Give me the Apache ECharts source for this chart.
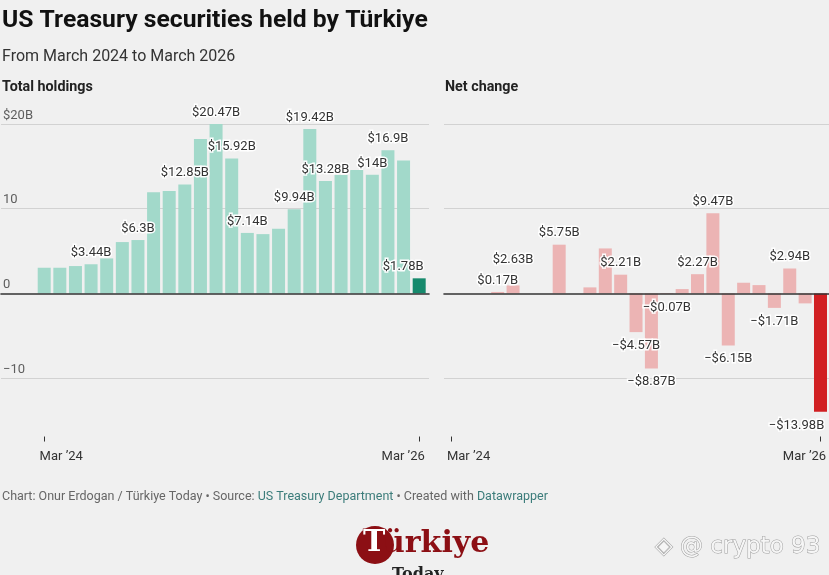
<!DOCTYPE html>
<html>
<head>
<meta charset="utf-8">
<title>US Treasury securities held by Türkiye</title>
<script src="https://cdn.jsdelivr.net/npm/echarts@6/dist/echarts.min.js"></script>
<style>
  html, body { margin: 0; padding: 0; background: #f0f0f0; }
  #chart { width: 829px; height: 575px; }
</style>
</head>
<body>
<div id="chart"></div>
<script>
// months, March 2024 -> March 2026
var months = ['Mar ’24', 'Apr ’24', 'May ’24', 'Jun ’24', 'Jul ’24', 'Aug ’24', 'Sep ’24', 'Oct ’24', 'Nov ’24', 'Dec ’24',
    'Jan ’25', 'Feb ’25', 'Mar ’25', 'Apr ’25', 'May ’25', 'Jun ’25', 'Jul ’25', 'Aug ’25', 'Sep ’25', 'Oct ’25',
    'Nov ’25', 'Dec ’25', 'Jan ’26', 'Feb ’26', 'Mar ’26'];

// billions of dollars
var totalHoldings = [3.03, 3.03, 3.23, 3.44, 4.13, 6.06, 6.3, 11.93, 12.09, 12.85, 18.23, 20.47, 15.92, 7.14, 7.0,
    7.64, 9.94, 19.42, 13.28, 13.98, 14.57, 14.0, 16.9, 15.7, 1.78];
var totalLabels = ['', '', '', '$3.44B', '', '', '$6.3B', '', '', '$12.85B', '', '$20.47B', '$15.92B', '$7.14B', '',
    '', '$9.94B', '$19.42B', '$13.28B', '', '', '$14B', '$16.9B', '', '$1.78B'];

var netChange = [0, 0, 0, 0.17, 0.94, 0, 0, 5.75, 0, 0.71, 5.31, 2.21, -4.57, -8.87, -0.07, 0.51, 2.27, 9.47, -6.15,
    1.26, 0.98, -1.71, 2.94, -1.18, -13.98];
var netLabels = ['', '', '', '$0.17B', '$2.63B', '', '', '$5.75B', '', '', '', '$2.21B', '−$4.57B', '−$8.87B', '−$0.07B',
    '', '$2.27B', '$9.47B', '−$6.15B', '', '', '−$1.71B', '$2.94B', '', '−$13.98B'];

var yTicks = [-20, -10, 0, 10, 20];
var yTickLabels = ['', '−10', '0', '10', '$20B'];

// label nudges (Datawrapper moves a few labels so they don't collide / overflow)
var totalNudge = {24: {offset: [-16, 0]}};
var netNudge = {4: {distance: 19}, 24: {offset: [-24, 0]}};

var FONT = 'Roboto, "Noto Sans", sans-serif';
var Y_MIN_BG = -20, Y_MAX = 20, Y_MIN_BARS = -16.9;
var TOP = 124, PX_PER_UNIT = 8.47;
var bgHeight = (Y_MAX - Y_MIN_BG) * PX_PER_UNIT;
var barsHeight = (Y_MAX - Y_MIN_BARS) * PX_PER_UNIT;

function build_items(values, labels, nudge, color, lastColor) {
    return values.map(function (v, i) {
        var item = {value: v, itemStyle: {color: i === values.length - 1 ? lastColor : color}};
        if (labels[i]) {
            var n = nudge[i] || {};
            item.label = {
                show: true,
                formatter: labels[i],
                position: 'outside',
                distance: n.distance !== undefined ? n.distance : (v >= 0 ? 5 : 7),
                offset: n.offset || [0, 0]
            };
        }
        return item;
    });
}

function bg_x_axis(grid) {
    return {
        gridIndex: grid, type: 'value', min: 0, max: 1, z: 5,
        axisLabel: {show: false}, axisTick: {show: false}, splitLine: {show: false},
        axisLine: {show: true, onZero: true, lineStyle: {color: '#333', width: 1.6}}
    };
}

function bg_y_axis(grid, showLabels) {
    return {
        gridIndex: grid, type: 'value', min: Y_MIN_BG, max: Y_MAX, interval: 10,
        axisLine: {show: false}, axisTick: {show: false},
        axisLabel: {
            show: showLabels, inside: true, margin: 2, verticalAlign: 'bottom', padding: [0, 0, 2, 0],
            color: '#5e5e5e', fontSize: 13, fontFamily: FONT,
            formatter: function (v) {
                var k = yTicks.indexOf(v);
                return k >= 0 ? yTickLabels[k] : '';
            }
        },
        splitLine: {
            show: true,
            lineStyle: {color: ['rgba(0,0,0,0)', '#d2d2d2', 'rgba(0,0,0,0)', '#d2d2d2', '#d2d2d2'], width: 1}
        }
    };
}

function first_or_last(idx) {
    return idx === 0 || idx === months.length - 1;
}

function bars_x_axis(grid) {
    return {
        gridIndex: grid, type: 'category', data: months,
        axisLine: {show: false, onZero: false},
        axisTick: {show: true, alignWithLabel: true, length: 5, interval: first_or_last,
            lineStyle: {color: '#333', width: 1}},
        axisLabel: {
            interval: first_or_last, margin: 14, color: '#333', fontSize: 13, fontFamily: FONT,
            formatter: function (v, idx) {
                return idx === 0 ? '{l|' + v + '}' : '{r|' + v + '}';
            },
            rich: {
                l: {padding: [0, 0, 0, 34], fontSize: 13, color: '#333', fontFamily: FONT},
                r: {padding: [0, 32, 0, 0], fontSize: 13, color: '#333', fontFamily: FONT}
            }
        },
        splitLine: {show: false}
    };
}

function bars_y_axis(grid) {
    return {gridIndex: grid, type: 'value', min: Y_MIN_BARS, max: Y_MAX, show: false, splitLine: {show: false}};
}

var chart = echarts.init(document.getElementById('chart'));

var labelStyle = {
    color: '#333', fontSize: 13, fontFamily: FONT,
    textBorderColor: 'rgba(255,255,255,0.95)', textBorderWidth: 3
};

var option = {
    backgroundColor: '#f0f0f0',
    animation: false,
    title: [
        {text: 'US Treasury securities held by Türkiye', left: 2, top: 8, padding: 0,
            textStyle: {fontSize: 24.7, fontWeight: 'bold', color: '#111', fontFamily: FONT}},
        {text: 'From March 2024 to March 2026', left: 2, top: 49, padding: 0,
            textStyle: {fontSize: 16, fontWeight: 'normal', color: '#333', fontFamily: FONT}},
        {text: 'Total holdings', left: 2, top: 80, padding: 0,
            textStyle: {fontSize: 14.3, fontWeight: 'bold', color: '#222', fontFamily: FONT}},
        {text: 'Net change', left: 445, top: 80, padding: 0,
            textStyle: {fontSize: 14.3, fontWeight: 'bold', color: '#222', fontFamily: FONT}},
        {
            text: '{g|Chart: Onur Erdogan / Türkiye Today • Source: }{b|US Treasury Department}{g| • Created with }{b|Datawrapper}',
            left: 2, top: 490, padding: 0,
            textStyle: {
                fontSize: 12.5, fontWeight: 'normal', fontFamily: FONT,
                rich: {
                    g: {fontSize: 12.5, fontWeight: 'normal', color: '#666', fontFamily: FONT},
                    b: {fontSize: 12.5, fontWeight: 'normal', color: '#3b7c7a', fontFamily: FONT}
                }
            }
        }
    ],
    grid: [
        {left: 0, top: TOP, width: 429, height: bgHeight},
        {left: 36.4, top: TOP, width: 390.6, height: barsHeight},
        {left: 444, top: TOP, width: 400, height: bgHeight},
        {left: 443.9, top: TOP, width: 390.6, height: barsHeight}
    ],
    xAxis: [bg_x_axis(0), bars_x_axis(1), bg_x_axis(2), bars_x_axis(3)],
    yAxis: [bg_y_axis(0, true), bars_y_axis(1), bg_y_axis(2, false), bars_y_axis(3)],
    series: [
        {
            name: 'Total holdings', type: 'bar', xAxisIndex: 1, yAxisIndex: 1, barWidth: 13, silent: true,
            label: labelStyle,
            data: build_items(totalHoldings, totalLabels, totalNudge, '#a2d9ca', '#178a6d')
        },
        {
            name: 'Net change', type: 'bar', xAxisIndex: 3, yAxisIndex: 3, barWidth: 13, silent: true,
            label: labelStyle,
            data: build_items(netChange, netLabels, netNudge, '#ecb4b4', '#d11f22')
        }
    ],
    graphic: [
        {type: 'circle', shape: {cx: 375, cy: 545, r: 19}, style: {fill: '#8c0f14'}},
        {type: 'text', x: 363, y: 528, style: {text: 'T', fill: '#fff', stroke: '#8c0f14', lineWidth: 1,
            font: 'bold 30px "DejaVu Serif", "Liberation Serif", serif'}},
        {type: 'text', x: 383, y: 529, style: {text: 'ürkiye', fill: '#8c0f14',
            font: 'bold 30px "DejaVu Serif", "Liberation Serif", serif'}},
        {type: 'text', x: 392, y: 567, style: {text: 'Today', fill: '#222',
            font: 'bold 16px "DejaVu Serif", "Liberation Serif", serif'}},
        {type: 'text', x: 655, y: 536, style: {text: '◈ @ crypto 93', fill: '#f6f6f6', stroke: '#9c9c9c',
            lineWidth: 1, font: '23px "DejaVu Sans", sans-serif'}}
    ]
};

chart.setOption(option);
</script>
</body>
</html>
